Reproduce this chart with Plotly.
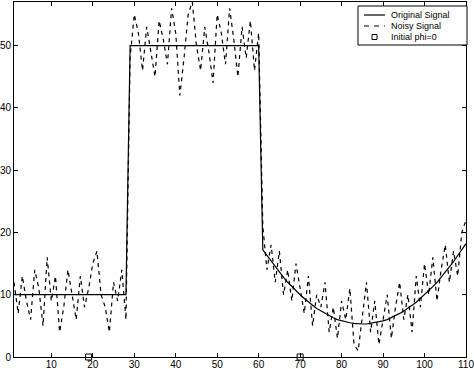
import plotly.graph_objects as go

x_idx = list(range(1, 111))

original_signal = (
    [10] * 28
    + [50] * 32
    + [17.2, 16.3, 15.3, 14.4, 13.6, 12.8, 12.0, 11.3, 10.6, 10.0,
       9.4, 8.8, 8.3, 7.8, 7.4, 7.0, 6.6, 6.3, 6.0, 5.8,
       5.6, 5.5, 5.4, 5.3, 5.3, 5.3, 5.4, 5.5, 5.6, 5.8,
       6.0, 6.3, 6.6, 7.0, 7.4, 7.8, 8.3, 8.8, 9.4, 10.0,
       10.6, 11.3, 12.0, 12.8, 13.6, 14.4, 15.3, 16.3, 17.2, 18.2]
)

noisy_signal = [
    12, 7, 13, 9, 6, 14, 11, 5, 16, 9,
    13, 4, 8, 14, 10, 6, 13, 8, 11, 15,
    17, 10, 8, 4, 12, 9, 14, 6,
    48, 55, 52, 46, 53, 49, 45, 54, 51, 47,
    56, 52, 42, 48, 55, 57, 50, 46, 53, 49,
    44, 55, 52, 47, 56, 51, 45, 53, 48, 54,
    46, 52,
    21, 14, 18, 12, 17, 10, 14, 9, 15, 11,
    7, 13, 5, 10, 8, 12, 4, 8, 3, 9,
    6, 11, 2, 1, 7, 12, 4, 9, 2, 6,
    10, 3, 8, 12, 6, 10, 4, 13, 8, 15,
    10, 16, 9, 14, 18, 12, 17, 13, 20, 22,
]

phi_x = [19, 70]
phi_y = [0, 0]

x_ticks = [10, 20, 30, 40, 50, 60, 70, 80, 90, 100, 110]
y_ticks = [0, 10, 20, 30, 40, 50]

legend_labels = ["Original Signal", "Noisy Signal", "Initial phi=0"]

W, H = 474, 369
ML, MR, MT, MB = 14, 8, 2, 12
PW, PH = W - ML - MR, H - MT - MB


def px(xp):
    return (xp - ML) / PW


def py(yp):
    return (H - MB - yp) / PH


fig = go.Figure()
fig.add_trace(go.Scatter(x=x_idx, y=original_signal, mode="lines",
                         name=legend_labels[0],
                         line=dict(color="black", width=1.2)))
fig.add_trace(go.Scatter(x=x_idx, y=noisy_signal, mode="lines",
                         name=legend_labels[1],
                         line=dict(color="black", width=1.2, dash="4px,4px")))
fig.add_trace(go.Scatter(x=phi_x, y=phi_y, mode="markers",
                         name=legend_labels[2], cliponaxis=False,
                         marker=dict(symbol="square-open", size=6,
                                     color="black", line=dict(width=1))))

axis_common = dict(showline=True, linecolor="black", linewidth=1, mirror="ticks",
                   ticks="inside", ticklen=4, tickcolor="black",
                   showgrid=False, zeroline=False,
                   tickfont=dict(family="Liberation Sans", size=10, color="black"),
                   ticklabeloverflow="allow",
                   automargin=False)

# compact legend box drawn in paper coordinates
shapes = [
    dict(type="rect", xref="paper", yref="paper",
         x0=px(358), x1=px(467), y0=py(45), y1=py(6),
         line=dict(color="black", width=1), fillcolor="white", layer="above"),
    dict(type="line", xref="paper", yref="paper",
         x0=px(364), x1=px(385), y0=py(15), y1=py(15),
         line=dict(color="black", width=1.2), layer="above"),
    dict(type="line", xref="paper", yref="paper",
         x0=px(364), x1=px(385), y0=py(26), y1=py(26),
         line=dict(color="black", width=1.2, dash="5px,5px"), layer="above"),
    dict(type="rect", xref="paper", yref="paper",
         x0=px(372), x1=px(377), y0=py(39.5), y1=py(34.5),
         line=dict(color="black", width=1), fillcolor="white", layer="above"),
]
annotations = [
    dict(xref="paper", yref="paper", x=px(389), y=py(yy), text=t,
         showarrow=False, xanchor="left", yanchor="middle",
         font=dict(family="Liberation Sans", size=9, color="black"))
    for t, yy in zip(legend_labels, [15, 26, 37])
]

fig.update_layout(
    width=W, height=H,
    margin=dict(l=ML, r=MR, t=MT, b=MB),
    paper_bgcolor="white", plot_bgcolor="white",
    xaxis=dict(range=[1, 110], tickvals=x_ticks, ticklabelstandoff=-2, **axis_common),
    yaxis=dict(range=[0, 57], tickvals=y_ticks, **axis_common),
    showlegend=False,
    shapes=shapes,
    annotations=annotations,
)

fig.write_html("out.html",
               config={"displayModeBar": False},
               post_script="document.body.style.margin='0px';document.body.style.overflow='hidden';")
